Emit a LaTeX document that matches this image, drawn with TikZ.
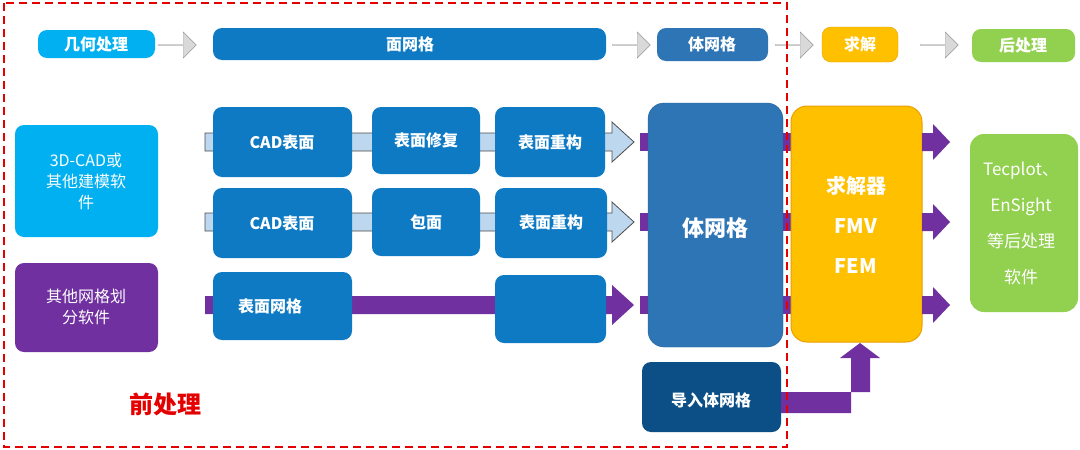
\documentclass[tikz,border=0pt]{standalone}
\usepackage{fontspec}
\setmainfont{Noto Sans CJK SC}
\usetikzlibrary{shapes.arrows}
\definecolor{cyanb}{HTML}{00B0F0}
\definecolor{blueb}{HTML}{0E7AC4}
\definecolor{midb}{HTML}{2E75B6}
\definecolor{darkb}{HTML}{0B4F86}
\definecolor{purp}{HTML}{7030A0}
\definecolor{gold}{HTML}{FFC000}
\definecolor{goldb}{HTML}{E8A000}
\definecolor{grn}{HTML}{92D050}
\definecolor{lblue}{HTML}{BDD7EE}
\definecolor{garr}{HTML}{D9D9D9}
\begin{document}
\begin{tikzpicture}[x=1pt,y=-1pt,
  box/.style={rounded corners=9pt,text=white,font=\bfseries\fontsize{16}{20}\selectfont,align=center},
  garrow/.style={single arrow,draw=gray!80,fill=garr,minimum height=38pt,minimum width=26pt,single arrow head extend=5pt,inner sep=0pt},
  parr/.style={fill=purp},
  larr/.style={fill=lblue,draw=gray!60!black,line width=0.8pt}]
\useasboundingbox (0,0) rectangle (1080,450);
\fill[white] (0,0) rectangle (1080,450);
% top row
\fill[box,fill=cyanb] (38,30) rectangle (155,58);
\node[box] (t1) at (96,44) {几何处理};
\fill[box,fill=blueb] (213,28) rectangle (606,60);
\node[box] (t2) at (410,44) {面网格};
\fill[box,fill=midb] (657,28) rectangle (768,61);
\node[box] (t3) at (712,44) {体网格};
\filldraw[box,fill=gold,draw=goldb] (822,27) rectangle (898,62);
\node[box] (t4) at (860,44) {求解};
\fill[box,fill=grn] (972,29) rectangle (1075,62);
\node[box] (t5) at (1023,45) {后处理};
\node[garrow] (g1) at (177,45) {};
\node[garrow] (g2) at (631,45) {};
\node[garrow] (g3) at (794,45) {};
\node[garrow] (g4) at (939,45) {};
% row arrows
\foreach \y in {142,222}{
  \filldraw[larr] (205,\y-9) -- (612,\y-9) -- (612,\y-20) -- (634,\y) -- (612,\y+20) -- (612,\y+9) -- (205,\y+9) -- cycle;
}
\fill[parr] (205,296) -- (612,296) -- (612,285) -- (634,305) -- (612,325) -- (612,314) -- (205,314) -- cycle;
\foreach \y in {142,222,305}{\fill[parr] (640,\y-9) rectangle (792,\y+9);}
% boxes
\fill[box,fill=cyanb] (15,125) rectangle (158,237);
\node[box,font=\fontsize{16}{21}\selectfont] (cad) at (86,181) {3D-CAD或\\其他建模软\\件};
\fill[box,fill=purp] (15,263) rectangle (158,352);
\node[box,font=\fontsize{16}{21}\selectfont] (oth) at (86,307) {其他网格划\\分软件};
\fill[box,fill=blueb] (213,107) rectangle (352,177); \node[box] (a1) at (282,142) {CAD表面};
\fill[box,fill=blueb] (372,107) rectangle (480,174); \node[box] (a2) at (426,140) {表面修复};
\fill[box,fill=blueb] (495,107) rectangle (605,177); \node[box] (a3) at (550,142) {表面重构};
\fill[box,fill=blueb] (213,188) rectangle (352,258); \node[box] (b1) at (282,223) {CAD表面};
\fill[box,fill=blueb] (372,188) rectangle (480,256); \node[box] (b2) at (426,222) {包面};
\fill[box,fill=blueb] (495,188) rectangle (607,258); \node[box] (b3) at (551,222) {表面重构};
\fill[box,fill=blueb] (213,272) rectangle (352,340); \node[box] (c1) at (270,306) {表面网格};
\fill[box,fill=blueb] (495,275) rectangle (606,343); \node (c2) at (550,309) {};
\filldraw[box,fill=midb,draw=midb!80!black,rounded corners=16pt] (648,103) rectangle (783,347);
\node[box,font=\bfseries\fontsize{22}{26}\selectfont] (vol) at (715,228) {体网格};
\filldraw[box,fill=gold,draw=goldb,line width=1pt,rounded corners=16pt] (791,106) rectangle (922,342);
\node[box,font=\bfseries\fontsize{20}{40}\selectfont] (sol) at (856,225) {求解器\\FMV\\FEM};
\foreach \y in {142,222,305}{\fill[parr] (922,\y-9) -- (933,\y-9) -- (933,\y-18) -- (950,\y) -- (933,\y+18) -- (933,\y+9) -- (922,\y+9) -- cycle;}
\fill[box,fill=grn,rounded corners=14pt] (970,134) rectangle (1078,312);
\node[box,font=\fontsize{17}{36}\selectfont] (post) at (1021,223) {Tecplot、\\EnSight\\等后处理\\软件};
\fill[box,fill=darkb] (642,362) rectangle (781,432);
\node[box] (imp) at (711,400) {导入体网格};
\fill[parr] (781,392) -- (870,392) -- (870,358) -- (880,358) -- (860,343) -- (840,358) -- (851,358) -- (851,413) -- (781,413) -- cycle;
% dashed region
\draw[red!90!black,line width=2.2pt,dash pattern=on 8pt off 5pt] (4,3) rectangle (787,447);
\node[text=red!90!black,font=\bfseries\fontsize{24}{28}\selectfont] (pre) at (165,404) {前处理};
\end{tikzpicture}
\end{document}
